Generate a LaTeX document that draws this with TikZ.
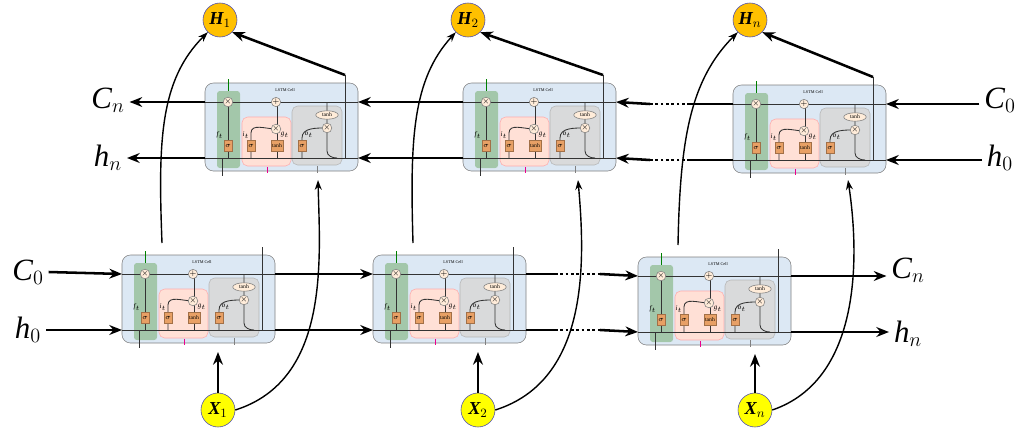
\documentclass[tikz,border=0pt]{standalone}
\usepackage{fontspec}
\setmainfont{Liberation Serif}
\usetikzlibrary{arrows.meta,shapes.geometric}
\definecolor{cellblue}{HTML}{DCE8F4}
\definecolor{gatebox}{HTML}{E8A065}
\definecolor{hcol}{HTML}{FFC000}
\definecolor{xcol}{HTML}{FFFF00}
\tikzset{
 big/.style={-{Stealth[length=9pt,width=7pt]},line width=1.8pt},
 thin/.style={-{Stealth[length=7pt,width=5pt]},line width=1pt},
 inner/.style={line width=0.6pt,black!80},
 gate/.style={draw=gatebox!70!black,fill=gatebox,inner sep=0.8pt,font=\fontsize{4}{4}\selectfont,minimum height=8pt},
 op/.style={circle,draw=gray,fill=orange!15,inner sep=0pt,minimum size=6pt,font=\fontsize{4}{4}\selectfont},
 lab/.style={font=\itshape\fontsize{22}{24}\selectfont},
 hnode/.style={circle,draw=gray!60!blue,fill=hcol,minimum size=34*0.025cm,inner sep=0pt,font=\bfseries\itshape\fontsize{13}{14}\selectfont},
 xnode/.style={circle,draw=gray!60!blue,fill=xcol,minimum size=34*0.025cm,inner sep=0pt,font=\bfseries\itshape\fontsize{13}{14}\selectfont},
}
\newcommand\lstmcell[3]{%
\begin{scope}[shift={(#1,#2)}]
 \draw[gray,fill=cellblue,rounded corners=6pt] (0,0) rectangle (153,88);
 \fill[green!40!black!45,opacity=0.7,rounded corners=2pt] (12,8) rectangle (35,85);
 \draw[pink!90!red,fill=orange!20!pink!40,rounded corners=4pt] (37,34) rectangle (86,83);
 \draw[gray!60,fill=gray!30,opacity=0.9,rounded corners=4pt] (87,23) rectangle (137,82);
 \node[font=\fontsize{3}{3}\selectfont] at (80,7) {LSTM Cell};
 \draw[inner] (0,19) -- (153,19);
 \draw[inner] (0,75) -- (153,75);
 \draw[inner] (140,-8) -- (140,75);
 \draw[green!50!black,line width=0.6pt] (23,-4) -- (23,8);
 \draw[inner] (17,75) -- (17,93);
 \draw[magenta,line width=0.6pt] (62,84) -- (62,90);
 \draw[gray,line width=0.6pt] (112,83) -- (112,90);
 \draw[inner] (23,75) -- (23,19);
 \draw[inner] (46,75) -- (46,50) to[out=90,in=180] (71,46);
 \draw[inner] (72,75) -- (72,19);
 \draw[inner] (97,75) -- (97,55) to[out=90,in=180] (122,45);
 \draw[inner] (122,19) -- (122,45) -- (122,68) to[out=-90,in=180] (132,75);
 \node[op] at (23,19) {$\times$};
 \node[op] at (71,19) {$+$};
 \node[op] at (71,46) {$\times$};
 \node[op] at (122,45) {$\times$};
 \node[op,ellipse,minimum width=16pt] at (122,32) {tanh};
 \node[gate] at (23,63) {$\sigma$};
 \node[gate] at (46,63) {$\sigma$};
 \node[gate] at (72,63) {tanh};
 \node[gate] at (97,63) {$\sigma$};
 \node[font=\itshape\fontsize{5}{5}\selectfont] at (15,52) {f$_t$};
 \node[font=\itshape\fontsize{5}{5}\selectfont] at (41,52) {i$_t$};
 \node[font=\itshape\fontsize{5}{5}\selectfont] at (80,52) {g$_t$};
 \node[font=\itshape\fontsize{5}{5}\selectfont] at (104,52) {o$_t$};
 \coordinate (#3cl) at (0,19); \coordinate (#3cr) at (153,19);
 \coordinate (#3hl) at (0,75); \coordinate (#3hr) at (153,75);
 \coordinate (#3top) at (140,-8); \coordinate (#3bot) at (17,93);
 \coordinate (#3b2) at (112,90); \coordinate (#3up) at (40,-12);
\end{scope}}
\begin{document}
\begin{tikzpicture}[x=0.025cm,y=-0.025cm]
\useasboundingbox (0,0) rectangle (1019,434);
\lstmcell{122}{255}{a}
\lstmcell{373}{255}{b}
\lstmcell{638}{257}{c}
\lstmcell{205}{83}{d}
\lstmcell{463}{83}{e}
\lstmcell{733}{85}{f}
% labels
\node[lab] (c0b) at (28,272) {C$_0$};
\node[lab] (h0b) at (28,330) {h$_0$};
\node[lab] (cnb) at (908,270) {C$_n$};
\node[lab] (hnb) at (908,334) {h$_n$};
\node[lab] (cnt) at (108,100) {C$_n$};
\node[lab] (hnt) at (108,158) {h$_n$};
\node[lab] (c0t) at (1000,100) {C$_0$};
\node[lab] (h0t) at (1000,158) {h$_0$};
% bottom row arrows
\draw[big] (c0b.east) -- (acl);
\draw[big] (h0b.east |- ahl) -- (ahl);
\draw[big] (acr) -- (bcl);
\draw[big] (ahr) -- (bhl);
\coordinate (p1) at (555,274); \coordinate (p2) at (600,274);
\coordinate (p3) at (555,330); \coordinate (p4) at (600,330);
\draw[line width=1.8pt] (bcr) -- (p1); \draw[line width=1.8pt,dotted] (p1) -- (p2); \draw[big] (p2) -- (ccl);
\draw[line width=1.8pt] (bhr) -- (p3); \draw[line width=1.8pt,dotted] (p3) -- (p4); \draw[big] (p4) -- (chl);
\draw[big] (ccr) -- (cnb.west |- ccr);
\draw[big] (chr) -- (hnb.west |- chr);
% top row arrows
\draw[big] (c0t.west |- fcr) -- (fcr);
\draw[big] (h0t.west |- fhr) -- (fhr);
\coordinate (q1) at (690,104); \coordinate (q2) at (650,104);
\coordinate (q3) at (690,160); \coordinate (q4) at (650,160);
\draw[line width=1.8pt] (fcl) -- (q1); \draw[line width=1.8pt,dotted] (q1) -- (q2); \draw[big] (q2) -- (ecr);
\draw[line width=1.8pt] (fhl) -- (q3); \draw[line width=1.8pt,dotted] (q3) -- (q4); \draw[big] (q4) -- (ehr);
\draw[big] (ecl) -- (dcr);
\draw[big] (ehl) -- (dhr);
\draw[big] (dcl) -- (cnt.east |- dcl);
\draw[big] (dhl) -- (hnt.east |- dhl);
% H and X nodes
\node[hnode] (H1) at (220,20) {H$_1$};
\node[hnode] (H2) at (468,20) {H$_2$};
\node[hnode] (Hn) at (750,20) {H$_n$};
\node[xnode] (X1) at (218,410) {X$_1$};
\node[xnode] (X2) at (478,410) {X$_2$};
\node[xnode] (Xn) at (755,410) {X$_n$};
% X to bottom cells
\draw[big] (X1.north) -- (218,352);
\draw[big] (X2.north) -- (478,352);
\draw[big] (Xn.north) -- (755,354);
% top cells to H
\draw[big] (dtop) -- (H1.south east);
\draw[big] (etop) -- (H2.south east);
\draw[big] (ftop) -- (Hn.south east);
% X to top cells (curves)
\draw[thin] (X1.east) .. controls (330,380) and (320,260) .. (318,180);
\draw[thin] (X2.east) .. controls (590,380) and (585,260) .. (578,180);
\draw[thin] (Xn.east) .. controls (860,380) and (860,260) .. (848,180);
% bottom cells to H
\draw[thin] (aup) .. controls (158,140) and (160,80) .. (H1.south west);
\draw[thin] (bup) .. controls (410,140) and (412,80) .. (H2.south west);
\draw[thin] (cup) .. controls (680,140) and (690,80) .. (Hn.south west);
\end{tikzpicture}
\end{document}
